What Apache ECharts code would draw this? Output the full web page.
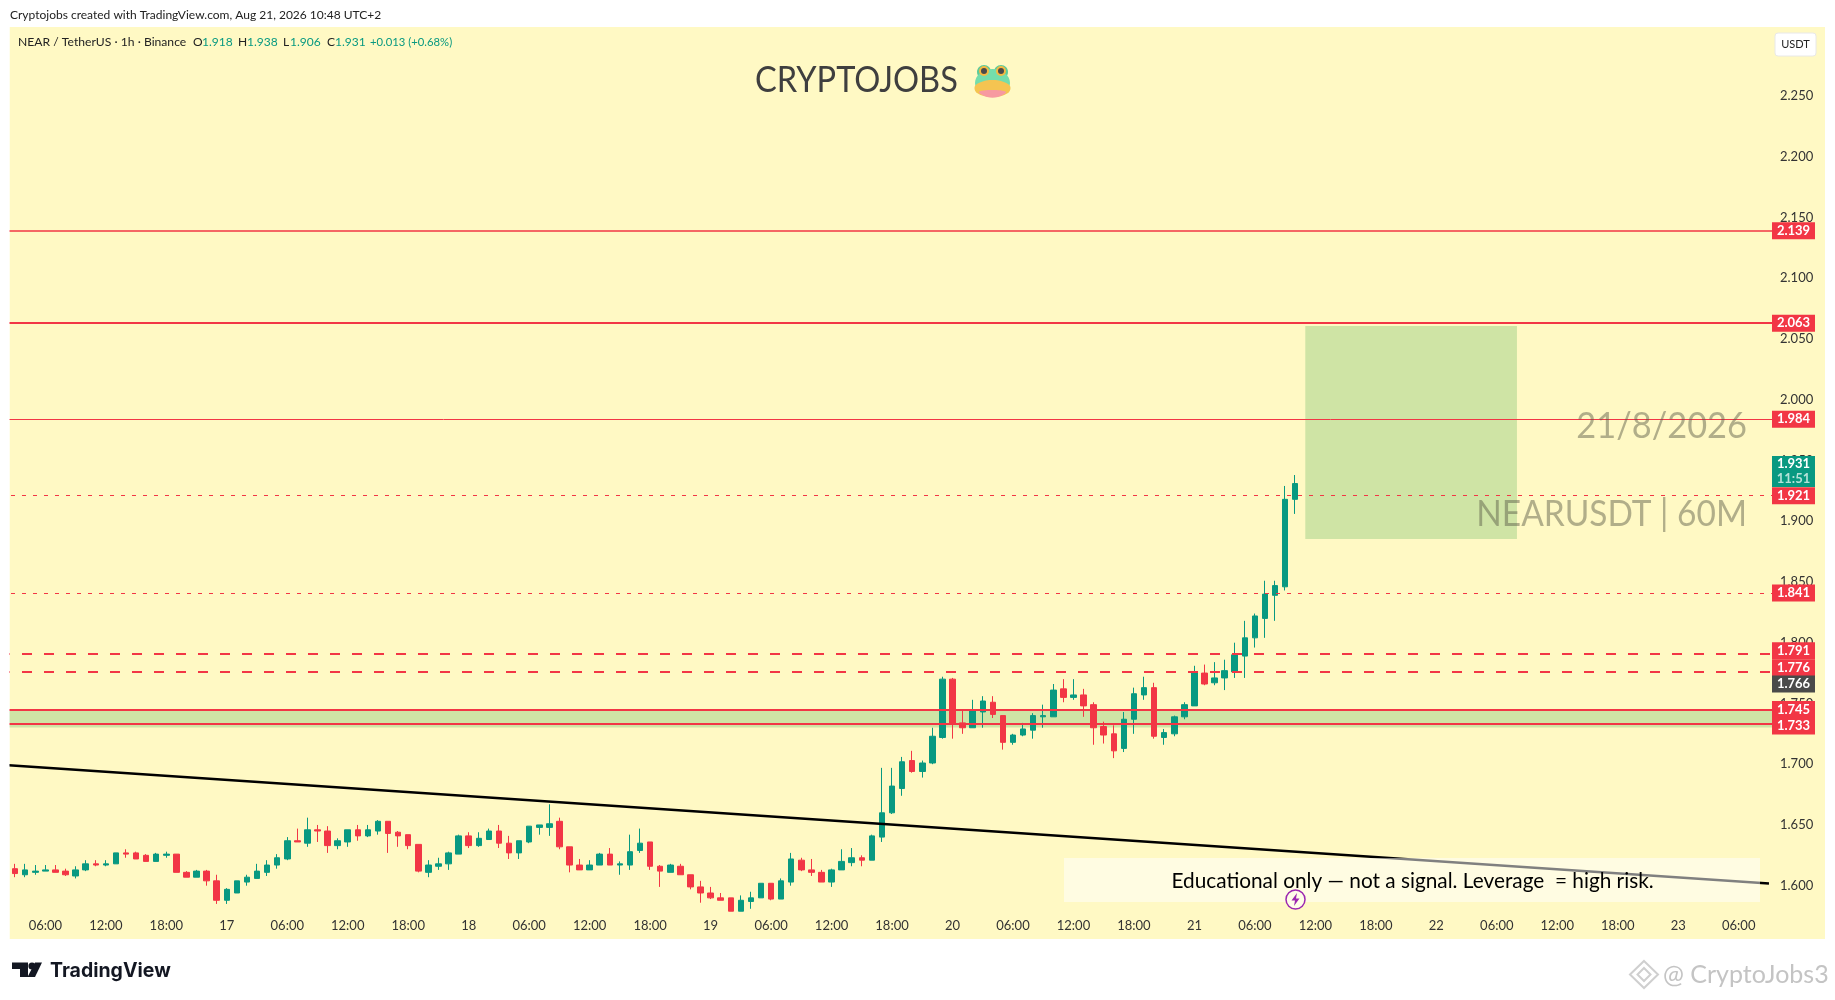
<!DOCTYPE html>
<html><head><meta charset="utf-8">
<style>html,body{margin:0;padding:0;background:#fff}#c{width:1835px;height:1000px}</style>
<script src="https://cdn.jsdelivr.net/npm/echarts@6/dist/echarts.min.js"></script>
</head><body><div id="c"></div>
<script>
// Hourly candles from 16 Aug 03:00 to 21 Aug 10:00
const opens=[1.614,1.609,1.611,1.612,1.613,1.612,1.608,1.613,1.618,1.617,1.618,1.627,1.627,1.625,1.620,1.625,1.626,1.611,1.607,1.612,1.604,1.588,1.594,1.603,1.606,1.611,1.617,1.622,1.637,1.635,1.646,1.645,1.633,1.636,1.646,1.641,1.645,1.653,1.644,1.642,1.634,1.611,1.616,1.618,1.626,1.641,1.633,1.638,1.645,1.635,1.627,1.636,1.648,1.648,1.653,1.632,1.617,1.613,1.617,1.626,1.617,1.617,1.629,1.636,1.616,1.611,1.616,1.609,1.599,1.594,1.590,1.590,1.579,1.587,1.590,1.602,1.589,1.603,1.621,1.613,1.611,1.603,1.613,1.619,1.623,1.621,1.640,1.660,1.680,1.703,1.694,1.701,1.722,1.770,1.734,1.730,1.743,1.751,1.740,1.718,1.724,1.728,1.739,1.739,1.762,1.755,1.757,1.749,1.731,1.725,1.713,1.737,1.757,1.763,1.722,1.725,1.739,1.748,1.775,1.767,1.771,1.776,1.789,1.804,1.820,1.839,1.846,1.918];
const highs=[1.618,1.618,1.617,1.617,1.617,1.614,1.616,1.621,1.621,1.621,1.627,1.630,1.628,1.626,1.627,1.628,1.626,1.612,1.613,1.613,1.609,1.598,1.604,1.609,1.618,1.621,1.626,1.640,1.647,1.656,1.650,1.649,1.639,1.646,1.650,1.650,1.654,1.653,1.645,1.642,1.634,1.621,1.623,1.628,1.642,1.644,1.644,1.647,1.650,1.641,1.637,1.649,1.650,1.667,1.656,1.632,1.622,1.621,1.627,1.631,1.620,1.642,1.647,1.636,1.617,1.618,1.618,1.609,1.604,1.599,1.594,1.590,1.592,1.595,1.602,1.602,1.606,1.627,1.623,1.622,1.613,1.614,1.630,1.631,1.625,1.642,1.697,1.697,1.706,1.711,1.703,1.730,1.772,1.771,1.744,1.753,1.756,1.756,1.740,1.725,1.734,1.742,1.749,1.766,1.770,1.770,1.762,1.751,1.735,1.732,1.743,1.763,1.772,1.767,1.729,1.740,1.751,1.781,1.782,1.784,1.786,1.800,1.818,1.824,1.851,1.851,1.929,1.938];
const lows=[1.607,1.607,1.609,1.612,1.611,1.608,1.606,1.612,1.616,1.616,1.618,1.623,1.622,1.620,1.620,1.623,1.611,1.607,1.607,1.600,1.585,1.585,1.594,1.600,1.606,1.608,1.614,1.621,1.636,1.632,1.636,1.627,1.630,1.632,1.637,1.640,1.642,1.627,1.632,1.630,1.611,1.607,1.613,1.613,1.626,1.631,1.632,1.638,1.631,1.622,1.622,1.635,1.642,1.641,1.630,1.611,1.613,1.613,1.617,1.617,1.609,1.613,1.627,1.613,1.599,1.611,1.609,1.597,1.586,1.589,1.588,1.579,1.579,1.581,1.590,1.588,1.589,1.600,1.612,1.608,1.603,1.599,1.613,1.616,1.616,1.621,1.636,1.659,1.674,1.693,1.689,1.700,1.721,1.721,1.725,1.730,1.730,1.738,1.712,1.716,1.723,1.721,1.730,1.739,1.751,1.753,1.739,1.716,1.717,1.705,1.710,1.725,1.753,1.721,1.716,1.723,1.737,1.748,1.765,1.765,1.761,1.771,1.771,1.796,1.804,1.818,1.843,1.906];
const closes=[1.610,1.613,1.612,1.613,1.611,1.609,1.613,1.618,1.617,1.618,1.627,1.626,1.622,1.620,1.626,1.626,1.611,1.607,1.612,1.604,1.588,1.597,1.604,1.607,1.612,1.617,1.623,1.637,1.636,1.646,1.645,1.633,1.637,1.646,1.641,1.646,1.653,1.643,1.641,1.633,1.612,1.617,1.618,1.627,1.641,1.633,1.639,1.645,1.635,1.627,1.637,1.649,1.650,1.651,1.632,1.617,1.613,1.617,1.626,1.617,1.618,1.628,1.635,1.616,1.612,1.617,1.609,1.599,1.594,1.590,1.588,1.579,1.588,1.590,1.602,1.589,1.604,1.622,1.613,1.611,1.603,1.613,1.620,1.623,1.621,1.641,1.660,1.682,1.702,1.694,1.701,1.723,1.770,1.733,1.730,1.744,1.752,1.741,1.718,1.724,1.729,1.740,1.740,1.761,1.755,1.757,1.748,1.730,1.724,1.711,1.737,1.758,1.763,1.723,1.726,1.739,1.749,1.776,1.766,1.771,1.777,1.790,1.804,1.822,1.840,1.847,1.918,1.931];
const firstHour=2, hourCount=176, candleOffset=1;   // axis starts at 16 Aug 02:00
const firstDay=16;
const yTicks=[1.6,1.65,1.7,1.75,1.8,1.85,1.9,1.95,2.0,2.05,2.1,2.15,2.2,2.25];
const solidLevels=[{p:2.139,w:1.5},{p:2.063,w:2},{p:1.984,w:1},{p:1.745,w:2},{p:1.733,w:2}];
const thinDashLevels=[1.921,1.841];
const thickDashLevels=[1.791,1.776];
const trendStart=1.6994, trendEnd=1.6019;
const band=[1.7444,1.7303];
const target=[2.0607,1.8853];
const targetFromHour=131, targetToHour=152;
const priceTags=[
 {p:2.139,c:'#F23645',dy:0},{p:2.063,c:'#F23645',dy:0},{p:1.984,c:'#F23645',dy:0},
 {p:1.921,c:'#F23645',dy:0},{p:1.841,c:'#F23645',dy:0},{p:1.791,c:'#F23645',dy:-3},
 {p:1.776,c:'#F23645',dy:-4},{p:1.766,c:'#4A4A4A',dy:0},{p:1.745,c:'#F23645',dy:0},{p:1.733,c:'#F23645',dy:2}
];
const lastPrice=1.931, lastTimer='11:51';

const FONT='Lato, "Open Sans", sans-serif', RED='#F23645', GREEN='#089981', BG='#FFF9C4';
const cats=[]; for(let i=0;i<hourCount;i++) cats.push(firstHour+i);
const label=h=>{const d=Math.floor(h/24),r=h%24; return r===0?String(firstDay+d):String(r).padStart(2,'0')+':00';};
const candles=[['-','-','-','-']];
opens.forEach((o,i)=>candles.push([o,closes[i],lows[i],highs[i]]));

const solidLines=solidLevels.map(l=>({yAxis:l.p,lineStyle:{color:RED,width:l.w,type:'solid'}}));
const thinLines=thinDashLevels.map(p=>({yAxis:p,lineStyle:{color:RED,width:1.2,type:[4,7]}}));
const thickLines=thickDashLevels.map(p=>({yAxis:p,lineStyle:{color:RED,width:2,type:[10,12]}}));
const trend=[{xAxis:0,yAxis:trendStart,lineStyle:{color:'#000',width:2.5,type:'solid'}},{xAxis:hourCount-1,yAxis:trendEnd}];
const tagLabel=(c,dy)=>({show:true,position:'end',distance:0,align:'center',verticalAlign:'middle',offset:[19.5,dy],
  backgroundColor:c,color:'#fff',width:43,height:17,lineHeight:17,fontSize:13,fontFamily:FONT,fontWeight:'bold',padding:0});
const tagData=priceTags.map(t=>({yAxis:t.p,label:Object.assign(tagLabel(t.c,t.dy),{formatter:t.p.toFixed(3)})}));
tagData.push({yAxis:lastPrice,label:{show:true,position:'end',distance:0,align:'center',verticalAlign:'middle',offset:[19.5,-12],
  backgroundColor:GREEN,color:'#fff',width:43,height:31,padding:0,fontFamily:FONT,
  formatter:'{a|'+lastPrice.toFixed(3)+'}\n{b|'+lastTimer+'}',
  rich:{a:{color:'#fff',fontSize:13,fontWeight:'bold',lineHeight:15,fontFamily:FONT,width:43,align:'center'},
        b:{color:'#B5E2D8',fontSize:13,fontWeight:'bold',lineHeight:15,fontFamily:FONT,width:43,align:'center'}}}});

const blank=cats.map(()=>'-');
const txt=(x,y,text,size,color,extra,el)=>Object.assign({type:'text',x,y,z:7,silent:true,style:Object.assign({text,fontSize:size,fill:color,fontFamily:FONT,verticalAlign:'middle',align:'left'},extra||{})},el||{});
const shape=(type,sh,fill,z,extra)=>({type,shape:sh,z:z||7,silent:true,style:Object.assign({fill},extra||{})});

const graphics=[
 {type:'rect',z:-5,silent:true,shape:{x:9.5,y:27,width:1815.5,height:912},style:{fill:BG}},
 {type:'rect',z:9,silent:true,shape:{x:0,y:27,width:9.5,height:912},style:{fill:'#fff'}},
 txt(10,15,'Cryptojobs created with TradingView.com, Aug 21, 2026 10:48 UTC+2',12,'#222',null,{scaleX:1.0}),
 txt(18,42,'NEAR / TetherUS · 1h · Binance',12,'#222',null,{scaleX:1.012}),
 txt(193,42,'O',12,'#222'),txt(202,42,'1.918',12,GREEN),
 txt(238,42,'H',12,'#222'),txt(247,42,'1.938',12,GREEN),
 txt(283,42,'L',12,'#222'),txt(290,42,'1.906',12,GREEN),
 txt(327,42,'C',12,'#222'),txt(335,42,'1.931',12,GREEN),
 txt(370,42,'+0.013 (+0.68%)',12,GREEN,null,{scaleX:0.94}),
 txt(755,80,'CRYPTOJOBS',36,'#3F3F3F',null,{scaleX:0.905}),
 // frog badge
 shape('ellipse',{cx:984,cy:72,rx:7,ry:7},'#5CCB9B'),shape('ellipse',{cx:1001,cy:72,rx:7,ry:7},'#5CCB9B'),
 shape('ellipse',{cx:992.5,cy:83,rx:17.5,ry:14},'#74DDAB'),
 shape('polygon',{points:[[975,86],[984,81],[992,80],[1001,81],[1010,86],[1008,93],[992,97],[977,93]],smooth:0.4},'#F5C451',8),
 shape('polygon',{points:[[979,92],[992,90],[1006,92],[998,97],[987,97]],smooth:0.4},'#F79AA0',8),
 shape('circle',{cx:984,cy:71,r:5},'#F5B942',8),shape('circle',{cx:1001,cy:71,r:5},'#F5B942',8),
 shape('circle',{cx:984,cy:71,r:3},'#4A4A4A',8),shape('circle',{cx:1001,cy:71,r:3},'#4A4A4A',8),
 // USDT button
 {type:'rect',z:7,silent:true,shape:{x:1775,y:33,width:41,height:23,r:3},style:{fill:'#fff',stroke:'#E8E8E8',lineWidth:1}},
 txt(1795.5,44.5,'USDT',11,'#222',{align:'center'}),
 // faint watermarks
 txt(1747,426,'21/8/2026',36,'rgba(90,90,70,0.47)',{align:'right'},{scaleX:0.955}),
 txt(1747,514,'NEARUSDT | 60M',36,'rgba(90,90,70,0.47)',{align:'right'},{scaleX:0.93}),
 // note box
 {type:'rect',z:6,silent:true,shape:{x:1064,y:858,width:696,height:44},style:{fill:'rgba(255,255,255,0.5)'}},
 txt(1171.5,881,'Educational only — not a signal. Leverage  = high risk.',21,'#000',null,{scaleX:0.99}),
 // live marker
 {type:'circle',z:8,silent:true,shape:{cx:1295.5,cy:899.5,r:9.5},style:{fill:'#FFFDE8',stroke:'#9C27B0',lineWidth:1.5}},
 shape('polygon',{points:[[1297,893],[1291.5,900.5],[1295,900.5],[1294,906],[1299.5,898.5],[1296,898.5]]},'#9C27B0',9),
 // footer logo
 shape('polygon',{points:[[12,962.5],[28,962.5],[28,977],[20,977],[20,969],[12,969]]},'#131722'),
 shape('circle',{cx:32,cy:966,r:3.6},'#131722'),
 shape('polygon',{points:[[35,962.5],[42,962.5],[35,977],[27.5,977]]},'#131722'),
 txt(50,970.5,'TradingView',20,'#131722',{fontFamily:'Inter, sans-serif',fontWeight:700},{scaleX:0.975}),
 // footer credit
 shape('polygon',{points:[[1644,961],[1658,974.5],[1644,988],[1630,974.5]]},'none',7,{stroke:'#CFCFCF',lineWidth:2}),
 shape('polygon',{points:[[1644,968],[1650.5,974.5],[1644,981],[1637.5,974.5]]},'none',7,{stroke:'#CFCFCF',lineWidth:2}),
 txt(1663,975,'@ CryptoJobs3',25,'#C4C4C4')
];

const chart=echarts.init(document.getElementById('c'),null,{renderer:'canvas'});
chart.setOption({
 animation:false,backgroundColor:'#fff',
 grid:{left:-1.3,top:35.2,width:1775.3,height:911.25,containLabel:false},
 xAxis:{type:'category',data:cats,boundaryGap:true,axisLine:{show:false},axisTick:{show:false},splitLine:{show:false},
  axisLabel:{margin:-27.4,fontSize:13,color:'#333',fontFamily:FONT,hideOverlap:false,
   interval:(i,v)=>Number(v)%6===0,formatter:v=>label(Number(v))}},
 yAxis:{type:'value',position:'right',min:1.55,max:2.3,interval:0.05,scale:true,axisLine:{show:false},axisTick:{show:false},splitLine:{show:false},
  axisLabel:{margin:6,fontSize:13,color:'#333',fontFamily:FONT,showMinLabel:true,
   formatter:v=>yTicks.some(t=>Math.abs(t-v)<1e-6)?v.toFixed(3):''}},
 graphic:{elements:graphics},
 series:[
  {type:'line',z:1,silent:true,data:blank,showSymbol:false,markLine:{silent:true,symbol:'none',precision:4,animation:false,label:{show:false},
    data:[...solidLines,...thinLines,...thickLines,trend]}},
  {type:'line',z:2,silent:true,data:blank,showSymbol:false,markArea:{silent:true,precision:4,animation:false,itemStyle:{color:'rgba(76,175,80,0.27)'},
    data:[[{yAxis:band[0]},{yAxis:band[1]}],
          [{xAxis:targetFromHour-firstHour,yAxis:target[0]},{xAxis:targetToHour-firstHour,yAxis:target[1]}]]}},
  {type:'candlestick',z:3,silent:true,barWidth:6,data:candles,
    itemStyle:{color:GREEN,color0:RED,borderColor:GREEN,borderColor0:RED,borderWidth:1}},
  {type:'line',z:5,silent:true,data:blank,showSymbol:false,markLine:{silent:true,symbol:'none',precision:4,animation:false,lineStyle:{color:'transparent',width:0,opacity:1},data:tagData}}
 ]
});
</script></body></html>
